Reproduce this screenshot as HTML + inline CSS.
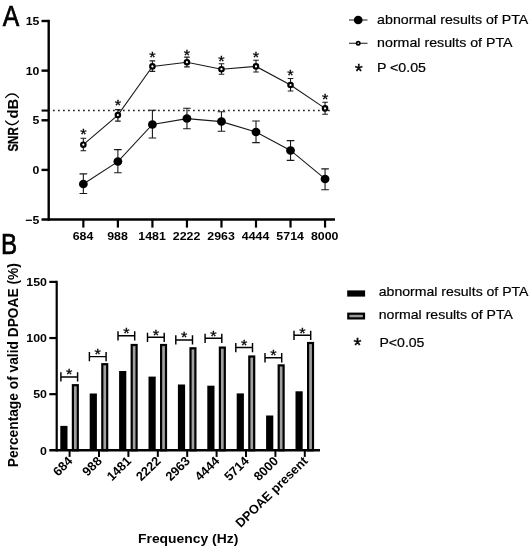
<!DOCTYPE html>
<html lang="en">
<head>
<meta charset="utf-8">
<title>DPOAE SNR and valid percentage by PTA result</title>
<style>
html,body{margin:0;padding:0;background:#fff;}
body{width:532px;height:550px;overflow:hidden;font-family:"Liberation Sans", sans-serif;}
svg{display:block;filter:blur(0.3px);}
</style>
</head>
<body>
<svg width="532" height="550" viewBox="0 0 532 550">
<rect width="532" height="550" fill="#fff"/>
<g stroke="#000" stroke-width="2.4" fill="none">
<path d="M48.7 19.8 V220.75"/>
<path d="M41.5 219.55 H335"/>
<path d="M41.5 21.00 H48.7"/>
<path d="M41.5 70.64 H48.7"/>
<path d="M41.5 120.28 H48.7"/>
<path d="M41.5 169.91 H48.7"/>
<path d="M41.6 110.55 H48.7" stroke-width="2.1"/>
<path d="M83.35 219.55 V227.6" stroke-width="2.2"/>
<path d="M117.88 219.55 V227.6" stroke-width="2.2"/>
<path d="M152.41 219.55 V227.6" stroke-width="2.2"/>
<path d="M186.94 219.55 V227.6" stroke-width="2.2"/>
<path d="M221.47 219.55 V227.6" stroke-width="2.2"/>
<path d="M256.00 219.55 V227.6" stroke-width="2.2"/>
<path d="M290.53 219.55 V227.6" stroke-width="2.2"/>
<path d="M325.06 219.55 V227.6" stroke-width="2.2"/>
</g>
<path d="M53.15 110.55 H330" stroke="#000" stroke-width="1.5" stroke-dasharray="1.5 3.5" fill="none"/>
<text transform="translate(39.40 25.20) scale(1.05 1)" font-family='"Liberation Sans", sans-serif' font-size="11.7" font-weight="700" text-anchor="end" fill="#000">15</text>
<text transform="translate(39.40 74.84) scale(1.05 1)" font-family='"Liberation Sans", sans-serif' font-size="11.7" font-weight="700" text-anchor="end" fill="#000">10</text>
<text transform="translate(39.40 124.48) scale(1.05 1)" font-family='"Liberation Sans", sans-serif' font-size="11.7" font-weight="700" text-anchor="end" fill="#000">5</text>
<text transform="translate(39.40 174.11) scale(1.05 1)" font-family='"Liberation Sans", sans-serif' font-size="11.7" font-weight="700" text-anchor="end" fill="#000">0</text>
<text transform="translate(39.40 223.75) scale(1.05 1)" font-family='"Liberation Sans", sans-serif' font-size="11.7" font-weight="700" text-anchor="end" fill="#000">−5</text>
<text transform="translate(82.95 240.10) scale(1.05 1)" font-family='"Liberation Sans", sans-serif' font-size="11.8" font-weight="700" text-anchor="middle" fill="#000">684</text>
<text transform="translate(117.48 240.10) scale(1.05 1)" font-family='"Liberation Sans", sans-serif' font-size="11.8" font-weight="700" text-anchor="middle" fill="#000">988</text>
<text transform="translate(152.01 240.10) scale(1.05 1)" font-family='"Liberation Sans", sans-serif' font-size="11.8" font-weight="700" text-anchor="middle" fill="#000">1481</text>
<text transform="translate(186.54 240.10) scale(1.05 1)" font-family='"Liberation Sans", sans-serif' font-size="11.8" font-weight="700" text-anchor="middle" fill="#000">2222</text>
<text transform="translate(221.07 240.10) scale(1.05 1)" font-family='"Liberation Sans", sans-serif' font-size="11.8" font-weight="700" text-anchor="middle" fill="#000">2963</text>
<text transform="translate(255.60 240.10) scale(1.05 1)" font-family='"Liberation Sans", sans-serif' font-size="11.8" font-weight="700" text-anchor="middle" fill="#000">4444</text>
<text transform="translate(290.13 240.10) scale(1.05 1)" font-family='"Liberation Sans", sans-serif' font-size="11.8" font-weight="700" text-anchor="middle" fill="#000">5714</text>
<text transform="translate(324.66 240.10) scale(1.05 1)" font-family='"Liberation Sans", sans-serif' font-size="11.8" font-weight="700" text-anchor="middle" fill="#000">8000</text>
<text transform="translate(18.3 0) rotate(-90)" font-family='"Liberation Sans", "Noto Sans CJK SC", sans-serif' font-size="14.6" font-weight="700" fill="#000"><tspan x="-151.6" y="0" textLength="24.35" lengthAdjust="spacingAndGlyphs" stroke="#000" stroke-width="0.3">SNR</tspan><tspan x="-139.7" y="-0.1" font-size="14.8" font-weight="400" textLength="20.7" lengthAdjust="spacingAndGlyphs">（</tspan><tspan x="-118.6" y="0" textLength="19.86" lengthAdjust="spacingAndGlyphs">dB</tspan><tspan x="-99.6" y="-0.1" font-size="14.8" font-weight="400" textLength="20.7" lengthAdjust="spacingAndGlyphs">）</tspan></text>
<g stroke="#1a1a1a" stroke-width="1.1" fill="none">
<path d="M83.35 184.0 L117.88 161.6 L152.41 124.4 L186.94 118.6 L221.47 121.6 L256.00 131.9 L290.53 150.4 L325.06 178.9"/>
<path d="M83.35 144.7 L117.88 115.1 L152.41 66.4 L186.94 62.2 L221.47 69.2 L256.00 66.4 L290.53 85.0 L325.06 108.4"/>
<path d="M83.35 173.9 V193.5 M79.55 173.9 h7.6 M79.55 193.5 h7.6"/>
<path d="M117.88 149.6 V172.7 M114.08 149.6 h7.6 M114.08 172.7 h7.6"/>
<path d="M152.41 110.3 V138.0 M148.61 110.3 h7.6 M148.61 138.0 h7.6"/>
<path d="M186.94 108.3 V128.7 M183.14 108.3 h7.6 M183.14 128.7 h7.6"/>
<path d="M221.47 111.8 V131.2 M217.67 111.8 h7.6 M217.67 131.2 h7.6"/>
<path d="M256.00 121.0 V142.6 M252.20 121.0 h7.6 M252.20 142.6 h7.6"/>
<path d="M290.53 140.6 V160.4 M286.73 140.6 h7.6 M286.73 160.4 h7.6"/>
<path d="M325.06 168.9 V189.7 M321.26 168.9 h7.6 M321.26 189.7 h7.6"/>
<path d="M83.35 138.3 V150.8 M80.55 138.3 h5.6 M80.55 150.8 h5.6"/>
<path d="M117.88 109.6 V121.1 M115.08 109.6 h5.6 M115.08 121.1 h5.6"/>
<path d="M152.41 60.9 V71.4 M149.61 60.9 h5.6 M149.61 71.4 h5.6"/>
<path d="M186.94 57.1 V66.9 M184.14 57.1 h5.6 M184.14 66.9 h5.6"/>
<path d="M221.47 63.7 V74.2 M218.67 63.7 h5.6 M218.67 74.2 h5.6"/>
<path d="M256.00 60.2 V72.0 M253.20 60.2 h5.6 M253.20 72.0 h5.6"/>
<path d="M290.53 78.5 V91.0 M287.73 78.5 h5.6 M287.73 91.0 h5.6"/>
<path d="M325.06 102.2 V114.2 M322.26 102.2 h5.6 M322.26 114.2 h5.6"/>
</g>
<ellipse cx="83.35" cy="184.0" rx="4.4" ry="4.25" fill="#000"/>
<ellipse cx="117.88" cy="161.6" rx="4.4" ry="4.25" fill="#000"/>
<ellipse cx="152.41" cy="124.4" rx="4.4" ry="4.25" fill="#000"/>
<ellipse cx="186.94" cy="118.6" rx="4.4" ry="4.25" fill="#000"/>
<ellipse cx="221.47" cy="121.6" rx="4.4" ry="4.25" fill="#000"/>
<ellipse cx="256.00" cy="131.9" rx="4.4" ry="4.25" fill="#000"/>
<ellipse cx="290.53" cy="150.4" rx="4.4" ry="4.25" fill="#000"/>
<ellipse cx="325.06" cy="178.9" rx="4.4" ry="4.25" fill="#000"/>
<circle cx="83.35" cy="144.7" r="2.2" fill="#fff" stroke="#000" stroke-width="2.2"/>
<circle cx="117.88" cy="115.1" r="2.2" fill="#fff" stroke="#000" stroke-width="2.2"/>
<circle cx="152.41" cy="66.4" r="2.2" fill="#fff" stroke="#000" stroke-width="2.2"/>
<circle cx="186.94" cy="62.2" r="2.2" fill="#fff" stroke="#000" stroke-width="2.2"/>
<circle cx="221.47" cy="69.2" r="2.2" fill="#fff" stroke="#000" stroke-width="2.2"/>
<circle cx="256.00" cy="66.4" r="2.2" fill="#fff" stroke="#000" stroke-width="2.2"/>
<circle cx="290.53" cy="85.0" r="2.2" fill="#fff" stroke="#000" stroke-width="2.2"/>
<circle cx="325.06" cy="108.4" r="2.2" fill="#fff" stroke="#000" stroke-width="2.2"/>
<text transform="translate(83.35 139.40) scale(1.05 1)" font-family='"Liberation Sans", sans-serif' font-size="15.5" text-anchor="middle" fill="#000" stroke="#000" stroke-width="0.3">*</text>
<text transform="translate(117.88 110.40) scale(1.05 1)" font-family='"Liberation Sans", sans-serif' font-size="15.5" text-anchor="middle" fill="#000" stroke="#000" stroke-width="0.3">*</text>
<text transform="translate(152.41 62.00) scale(1.05 1)" font-family='"Liberation Sans", sans-serif' font-size="15.5" text-anchor="middle" fill="#000" stroke="#000" stroke-width="0.3">*</text>
<text transform="translate(186.94 59.50) scale(1.05 1)" font-family='"Liberation Sans", sans-serif' font-size="15.5" text-anchor="middle" fill="#000" stroke="#000" stroke-width="0.3">*</text>
<text transform="translate(221.47 66.00) scale(1.05 1)" font-family='"Liberation Sans", sans-serif' font-size="15.5" text-anchor="middle" fill="#000" stroke="#000" stroke-width="0.3">*</text>
<text transform="translate(256.00 62.20) scale(1.05 1)" font-family='"Liberation Sans", sans-serif' font-size="15.5" text-anchor="middle" fill="#000" stroke="#000" stroke-width="0.3">*</text>
<text transform="translate(290.53 80.30) scale(1.05 1)" font-family='"Liberation Sans", sans-serif' font-size="15.5" text-anchor="middle" fill="#000" stroke="#000" stroke-width="0.3">*</text>
<text transform="translate(325.06 104.00) scale(1.05 1)" font-family='"Liberation Sans", sans-serif' font-size="15.5" text-anchor="middle" fill="#000" stroke="#000" stroke-width="0.3">*</text>
<path d="M349 20 H367.5 M349 43.2 H367.5" stroke="#1a1a1a" stroke-width="1.1"/>
<ellipse cx="358.2" cy="20" rx="4.4" ry="4.25" fill="#000"/>
<circle cx="358.2" cy="43.2" r="1.65" fill="#fff" stroke="#000" stroke-width="1.7"/>
<text transform="translate(377.10 24.30) scale(1.06 1)" font-family='"Liberation Sans", sans-serif' font-size="13.4" text-anchor="start" fill="#000" stroke="#000" stroke-width="0.2">abnormal results of PTA</text>
<text transform="translate(377.10 46.60) scale(1.06 1)" font-family='"Liberation Sans", sans-serif' font-size="13.4" text-anchor="start" fill="#000" stroke="#000" stroke-width="0.2">normal results of PTA</text>
<text transform="translate(376.90 72.00) scale(1.06 1)" font-family='"Liberation Sans", sans-serif' font-size="13.4" text-anchor="start" fill="#000" stroke="#000" stroke-width="0.2">P &lt;0.05</text>
<text transform="translate(358.70 78.20)" font-family='"Liberation Sans", sans-serif' font-size="20.5" text-anchor="middle" fill="#000" stroke="#000" stroke-width="0.35">*</text>
<text transform="translate(2.7 26.3) scale(0.84 1)" font-family='"Liberation Sans", sans-serif' font-size="29.5" fill="#000" stroke="#000" stroke-width="0.7">A</text>
<text transform="translate(1.0 254.3) scale(0.82 1)" font-family='"Liberation Sans", sans-serif' font-size="29.5" fill="#000" stroke="#000" stroke-width="0.7">B</text>
<g stroke="#000" stroke-width="2.2" fill="none">
<path d="M56.7 280.79999999999995 V451.40000000000003"/>
<path d="M49.3 281.90 H56.7"/>
<path d="M49.3 338.03 H56.7"/>
<path d="M49.3 394.17 H56.7"/>
<path d="M69.60 450.3 V456.9" stroke-width="2"/>
<path d="M99.00 450.3 V456.9" stroke-width="2"/>
<path d="M128.40 450.3 V456.9" stroke-width="2"/>
<path d="M157.80 450.3 V456.9" stroke-width="2"/>
<path d="M187.20 450.3 V456.9" stroke-width="2"/>
<path d="M216.60 450.3 V456.9" stroke-width="2"/>
<path d="M246.00 450.3 V456.9" stroke-width="2"/>
<path d="M275.40 450.3 V456.9" stroke-width="2"/>
<path d="M304.80 450.3 V456.9" stroke-width="2"/>
</g>
<text transform="translate(46.90 286.20) scale(1.05 1)" font-family='"Liberation Sans", sans-serif' font-size="11.8" font-weight="700" text-anchor="end" fill="#000">150</text>
<text transform="translate(46.90 342.33) scale(1.05 1)" font-family='"Liberation Sans", sans-serif' font-size="11.8" font-weight="700" text-anchor="end" fill="#000">100</text>
<text transform="translate(46.90 398.47) scale(1.05 1)" font-family='"Liberation Sans", sans-serif' font-size="11.8" font-weight="700" text-anchor="end" fill="#000">50</text>
<text transform="translate(46.90 454.60) scale(1.05 1)" font-family='"Liberation Sans", sans-serif' font-size="11.8" font-weight="700" text-anchor="end" fill="#000">0</text>
<rect x="60.30" y="425.9" width="7.2" height="24.40" fill="#000"/>
<rect x="72.90" y="385.20" width="4.9" height="65.10" fill="#a0a0a0" stroke="#000" stroke-width="2.2"/>
<path d="M60.90 376.9 h16.7 M60.90 372.29999999999995 v9.3 M77.60 372.29999999999995 v9.3" stroke="#000" stroke-width="1.45" fill="none"/>
<text transform="translate(69.25 379.40) scale(1.05 1)" font-family='"Liberation Sans", sans-serif' font-size="15.5" text-anchor="middle" fill="#000" stroke="#000" stroke-width="0.3">*</text>
<rect x="89.70" y="393.5" width="7.2" height="56.80" fill="#000"/>
<rect x="102.30" y="364.20" width="4.9" height="86.10" fill="#a0a0a0" stroke="#000" stroke-width="2.2"/>
<path d="M89.40 356.6 h16.7 M89.40 352.0 v9.3 M106.10 352.0 v9.3" stroke="#000" stroke-width="1.45" fill="none"/>
<text transform="translate(97.75 359.10) scale(1.05 1)" font-family='"Liberation Sans", sans-serif' font-size="15.5" text-anchor="middle" fill="#000" stroke="#000" stroke-width="0.3">*</text>
<rect x="119.10" y="371.0" width="7.2" height="79.30" fill="#000"/>
<rect x="131.70" y="345.00" width="4.9" height="105.30" fill="#a0a0a0" stroke="#000" stroke-width="2.2"/>
<path d="M118.00 335.8 h16.7 M118.00 331.2 v9.3 M134.70 331.2 v9.3" stroke="#000" stroke-width="1.45" fill="none"/>
<text transform="translate(126.35 338.30) scale(1.05 1)" font-family='"Liberation Sans", sans-serif' font-size="15.5" text-anchor="middle" fill="#000" stroke="#000" stroke-width="0.3">*</text>
<rect x="148.50" y="376.6" width="7.2" height="73.70" fill="#000"/>
<rect x="161.10" y="345.00" width="4.9" height="105.30" fill="#a0a0a0" stroke="#000" stroke-width="2.2"/>
<path d="M147.50 337.3 h16.7 M147.50 332.7 v9.3 M164.20 332.7 v9.3" stroke="#000" stroke-width="1.45" fill="none"/>
<text transform="translate(155.85 339.80) scale(1.05 1)" font-family='"Liberation Sans", sans-serif' font-size="15.5" text-anchor="middle" fill="#000" stroke="#000" stroke-width="0.3">*</text>
<rect x="177.90" y="384.5" width="7.2" height="65.80" fill="#000"/>
<rect x="190.50" y="348.30" width="4.9" height="102.00" fill="#a0a0a0" stroke="#000" stroke-width="2.2"/>
<path d="M175.80 339.9 h16.7 M175.80 335.29999999999995 v9.3 M192.50 335.29999999999995 v9.3" stroke="#000" stroke-width="1.45" fill="none"/>
<text transform="translate(184.15 342.40) scale(1.05 1)" font-family='"Liberation Sans", sans-serif' font-size="15.5" text-anchor="middle" fill="#000" stroke="#000" stroke-width="0.3">*</text>
<rect x="207.30" y="385.7" width="7.2" height="64.60" fill="#000"/>
<rect x="219.90" y="347.60" width="4.9" height="102.70" fill="#a0a0a0" stroke="#000" stroke-width="2.2"/>
<path d="M205.10 338.3 h16.7 M205.10 333.7 v9.3 M221.80 333.7 v9.3" stroke="#000" stroke-width="1.45" fill="none"/>
<text transform="translate(213.45 340.80) scale(1.05 1)" font-family='"Liberation Sans", sans-serif' font-size="15.5" text-anchor="middle" fill="#000" stroke="#000" stroke-width="0.3">*</text>
<rect x="236.70" y="393.4" width="7.2" height="56.90" fill="#000"/>
<rect x="249.30" y="356.50" width="4.9" height="93.80" fill="#a0a0a0" stroke="#000" stroke-width="2.2"/>
<path d="M235.80 347.5 h16.7 M235.80 342.9 v9.3 M252.50 342.9 v9.3" stroke="#000" stroke-width="1.45" fill="none"/>
<text transform="translate(244.15 350.00) scale(1.05 1)" font-family='"Liberation Sans", sans-serif' font-size="15.5" text-anchor="middle" fill="#000" stroke="#000" stroke-width="0.3">*</text>
<rect x="266.10" y="415.5" width="7.2" height="34.80" fill="#000"/>
<rect x="278.70" y="365.40" width="4.9" height="84.90" fill="#a0a0a0" stroke="#000" stroke-width="2.2"/>
<path d="M265.00 357.7 h16.7 M265.00 353.09999999999997 v9.3 M281.70 353.09999999999997 v9.3" stroke="#000" stroke-width="1.45" fill="none"/>
<text transform="translate(273.35 360.20) scale(1.05 1)" font-family='"Liberation Sans", sans-serif' font-size="15.5" text-anchor="middle" fill="#000" stroke="#000" stroke-width="0.3">*</text>
<rect x="295.50" y="391.3" width="7.2" height="59.00" fill="#000"/>
<rect x="308.10" y="343.00" width="4.9" height="107.30" fill="#a0a0a0" stroke="#000" stroke-width="2.2"/>
<path d="M294.00 335.3 h16.7 M294.00 330.7 v9.3 M310.70 330.7 v9.3" stroke="#000" stroke-width="1.45" fill="none"/>
<text transform="translate(302.35 337.80) scale(1.05 1)" font-family='"Liberation Sans", sans-serif' font-size="15.5" text-anchor="middle" fill="#000" stroke="#000" stroke-width="0.3">*</text>
<path d="M49.3 450.3 H320" stroke="#000" stroke-width="2.4"/>
<text transform="translate(73.30 461.80) scale(1.02 1) rotate(-45)" font-family='"Liberation Sans", sans-serif' font-size="12.6" font-weight="700" text-anchor="end" fill="#000">684</text>
<text transform="translate(102.70 461.80) scale(1.02 1) rotate(-45)" font-family='"Liberation Sans", sans-serif' font-size="12.6" font-weight="700" text-anchor="end" fill="#000">988</text>
<text transform="translate(132.10 461.80) scale(1.02 1) rotate(-45)" font-family='"Liberation Sans", sans-serif' font-size="12.6" font-weight="700" text-anchor="end" fill="#000">1481</text>
<text transform="translate(161.50 461.80) scale(1.02 1) rotate(-45)" font-family='"Liberation Sans", sans-serif' font-size="12.6" font-weight="700" text-anchor="end" fill="#000">2222</text>
<text transform="translate(190.90 461.80) scale(1.02 1) rotate(-45)" font-family='"Liberation Sans", sans-serif' font-size="12.6" font-weight="700" text-anchor="end" fill="#000">2963</text>
<text transform="translate(220.30 461.80) scale(1.02 1) rotate(-45)" font-family='"Liberation Sans", sans-serif' font-size="12.6" font-weight="700" text-anchor="end" fill="#000">4444</text>
<text transform="translate(249.70 461.80) scale(1.02 1) rotate(-45)" font-family='"Liberation Sans", sans-serif' font-size="12.6" font-weight="700" text-anchor="end" fill="#000">5714</text>
<text transform="translate(279.10 461.80) scale(1.02 1) rotate(-45)" font-family='"Liberation Sans", sans-serif' font-size="12.6" font-weight="700" text-anchor="end" fill="#000">8000</text>
<text transform="translate(308.50 461.80) scale(1.02 1) rotate(-45)" font-family='"Liberation Sans", sans-serif' font-size="12.6" font-weight="700" text-anchor="end" fill="#000">DPOAE present</text>
<text transform="translate(138.00 542.80) scale(1.03 1)" font-family='"Liberation Sans", sans-serif' font-size="13.5" font-weight="700" text-anchor="start" fill="#000">Frequency (Hz)</text>
<text transform="translate(18.30 365.20) rotate(-90) scale(0.97 1)" font-family='"Liberation Sans", sans-serif' font-size="14.2" font-weight="700" text-anchor="middle" fill="#000">Percentage of valid DPOAE (%)</text>
<rect x="347.2" y="290.4" width="17.9" height="6.2" fill="#000"/>
<rect x="348.3" y="313.7" width="15.7" height="4.7" fill="#9a9a9a" stroke="#000" stroke-width="2.2"/>
<text transform="translate(378.80 295.70) scale(1.05 1)" font-family='"Liberation Sans", sans-serif' font-size="13.4" text-anchor="start" fill="#000" stroke="#000" stroke-width="0.2">abnormal results of PTA</text>
<text transform="translate(378.80 318.50) scale(1.05 1)" font-family='"Liberation Sans", sans-serif' font-size="13.4" text-anchor="start" fill="#000" stroke="#000" stroke-width="0.2">normal results of PTA</text>
<text transform="translate(379.50 347.40) scale(1.05 1)" font-family='"Liberation Sans", sans-serif' font-size="13.4" text-anchor="start" fill="#000" stroke="#000" stroke-width="0.2">P&lt;0.05</text>
<text transform="translate(357.50 352.00)" font-family='"Liberation Sans", sans-serif' font-size="20.5" text-anchor="middle" fill="#000" stroke="#000" stroke-width="0.35">*</text>
</svg>
</body>
</html>
